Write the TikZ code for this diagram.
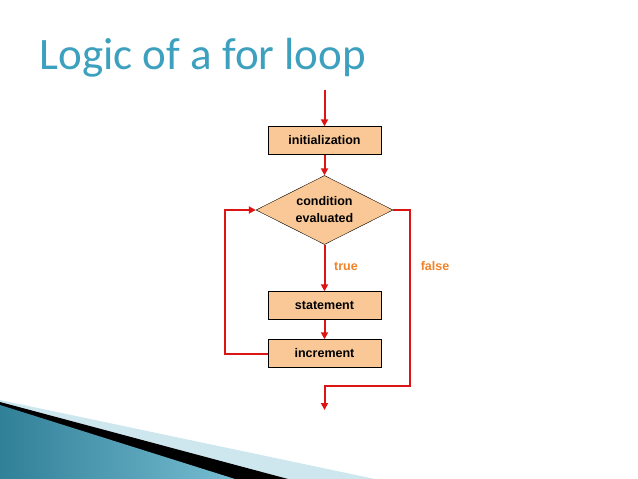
\documentclass[tikz,border=0pt]{standalone}
\usepackage{fontspec}
\setmainfont{Liberation Sans}
\newfontfamily\titlefont{Carlito}
\usetikzlibrary{shapes.geometric,arrows.meta}
\definecolor{boxfill}{RGB}{250,200,150}
\definecolor{flowred}{RGB}{220,20,20}
\definecolor{lbl}{RGB}{240,130,40}
\definecolor{teal}{RGB}{60,160,190}
\begin{document}
\begin{tikzpicture}[x=1pt,y=-1pt,
  txt/.style={font=\bfseries\fontsize{12.5}{17}\selectfont},
  stepbox/.style={txt,draw=black,fill=boxfill,minimum width=113pt,minimum height=28pt,inner sep=0pt},
  cond/.style={txt,draw=black,fill=boxfill,diamond,aspect=2,minimum width=137pt,minimum height=69pt,inner sep=0pt,align=center},
  flow/.style={draw=flowred,line width=2pt,-{Triangle[length=7pt,width=7pt]}},
  lab/.style={txt,text=lbl}]
\useasboundingbox (0,0) rectangle (638,479);
% decoration
\fill[teal!25] (0,400) -- (375,479) -- (0,479) -- cycle;
\fill[black] (0,402) -- (288,479) -- (0,479) -- cycle;
\shade[left color=teal!80!black,right color=teal!70] (0,405) -- (235,479) -- (0,479) -- cycle;
% title
\node[anchor=west,text=teal,font=\titlefont\fontsize{45}{50}\selectfont] (title) at (36,58) {Logic of a for loop};
% nodes
\coordinate (start) at (324.5,90);
\node[stepbox] (init) at (324.5,140.5) {initialization};
\node[cond] (cond) at (324.5,210) {condition\\evaluated};
\node[stepbox] (stmt) at (324.5,305.5) {statement};
\node[stepbox] (inc) at (324.5,353.5) {increment};
\coordinate (lft) at (225,0);
\coordinate (rgt) at (410,0);
\coordinate (fy) at (0,386);
\coordinate (endp) at (324.5,410);
\draw[flow] (start) -- (init);
\draw[flow] (init) -- (cond);
\draw[flow] (cond) -- (stmt);
\draw[flow] (stmt) -- (inc);
\draw[flow] (inc.west) -- (inc.west -| lft) -- (cond.west -| lft) -- (cond.west);
\draw[flow] (cond.east) -- (cond.east -| rgt) -- (fy -| rgt) -- (fy -| endp) -- (endp);
\node[lab] (t) at (346,266) {true};
\node[lab] (f) at (435,266) {false};
\end{tikzpicture}
\end{document}
